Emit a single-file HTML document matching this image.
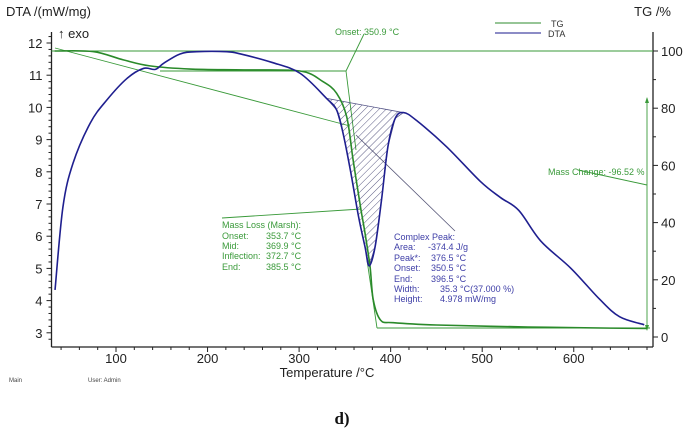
<!DOCTYPE html>
<html><head><meta charset="utf-8">
<style>
html,body{margin:0;padding:0;background:#fff;}
svg{display:block;font-family:"Liberation Sans",Arial,sans-serif;}
</style></head>
<body>
<svg id="chart" width="685" height="434" viewBox="0 0 685 434" xmlns="http://www.w3.org/2000/svg">
<defs>
<pattern id="hatch" patternUnits="userSpaceOnUse" width="5" height="5" patternTransform="rotate(45)">
<line x1="0" y1="0" x2="0" y2="5" stroke="#333366" stroke-width="0.8"/>
</pattern>
</defs>
<g id="axes"></g>
<g id="annot"></g>
<g id="series"></g>
<text x="6" y="16" font-size="13" fill="#222">DTA /(mW/mg)</text>
<text x="671" y="16" font-size="13" fill="#222" text-anchor="end">TG /%</text>
<text x="58" y="38" font-size="13" fill="#222">↑ exo</text>
<text x="327" y="377" font-size="13" fill="#222" text-anchor="middle">Temperature /°C</text>
<text x="9" y="382" font-size="6" fill="#444">Main</text>
<text x="88" y="382" font-size="6" fill="#444">User: Admin</text>
<text x="342" y="424" font-size="17" font-weight="bold" font-family="Liberation Serif,serif" text-anchor="middle" fill="#111">d)</text>
<g>
<line x1="495" y1="23" x2="541" y2="23" stroke="#2e8b2e" stroke-width="1"/>
<text x="551" y="27" font-size="9" fill="#333">TG</text>
<line x1="495" y1="33" x2="541" y2="33" stroke="#1a1a8c" stroke-width="1"/>
<text x="548" y="37" font-size="9" fill="#333">DTA</text>
</g>
<g font-size="9" fill="#3a9a3a">
<text x="335" y="35">Onset: 350.9 °C</text>
<text x="548" y="175">Mass Change: -96.52 %</text>
<text x="222" y="228">Mass Loss (Marsh):</text>
<text x="222" y="239">Onset:</text><text x="266" y="239">353.7 °C</text>
<text x="222" y="249">Mid:</text><text x="266" y="249">369.9 °C</text>
<text x="222" y="259">Inflection:</text><text x="266" y="259">372.7 °C</text>
<text x="222" y="270">End:</text><text x="266" y="270">385.5 °C</text>
</g>
<g font-size="9" fill="#4040a8">
<text x="394" y="240">Complex Peak:</text>
<text x="394" y="250">Area:</text><text x="428" y="250">-374.4 J/g</text>
<text x="394" y="261">Peak*:</text><text x="431" y="261">376.5 °C</text>
<text x="394" y="271">Onset:</text><text x="431" y="271">350.5 °C</text>
<text x="394" y="282">End:</text><text x="431" y="282">396.5 °C</text>
<text x="394" y="292">Width:</text><text x="440" y="292">35.3 °C(37.000 %)</text>
<text x="394" y="302">Height:</text><text x="440" y="302">4.978 mW/mg</text>
</g>
</svg>
<script>
const dtaT=[33.4,42,53,72,90,112,130,143,152,170,188,221,236,270,301,330,341,348,356,365,372,376.5,383,390,397,405,414,428,461,498,520,540,564,597,628,650,677];
const dtaV=[4.33,6.9,8.26,9.52,10.23,10.9,11.21,11.18,11.37,11.66,11.73,11.73,11.66,11.4,11.06,10.28,9.92,9.2,8.05,6.6,5.67,5.08,5.67,7.12,8.78,9.66,9.84,9.6,8.78,7.7,7.2,6.8,5.85,5.0,4.05,3.5,3.25];
const tgT=[33,75,108,137,181,240,301,326,341,352,359,367,372,377.5,381,389,403,450,550,640,680];
const tgV=[100,99.8,96.9,94.8,93.7,93.4,93,89.3,85.2,77,61.9,45.6,36.3,24.6,13,5.9,5.0,4.2,3.5,3.1,3.0];
const xTicks=[100,200,300,400,500,600];
const yLeftTicks=[3,4,5,6,7,8,9,10,11,12];
const yRightTicks=[0,20,40,60,80,100];
const X0=51.5,X1=653,YB=347;
const xs=t=>116+(t-100)*0.9155;
const yl=v=>43+(12-v)*32.2;
const yr=p=>337-p*2.86;
const NS='http://www.w3.org/2000/svg';
function mk(tag,attrs,parent){const el=document.createElementNS(NS,tag);for(const k in attrs)el.setAttribute(k,attrs[k]);parent.appendChild(el);return el;}
const ax=document.getElementById('axes');
let e;
e=mk('line',{x1:X0,y1:32,x2:X0,y2:YB,stroke:'#222','stroke-width':1.3},ax);


e=mk('line',{x1:X0,y1:YB,x2:X1,y2:YB,stroke:'#222','stroke-width':1.3},ax);


e=mk('line',{x1:X1,y1:32,x2:X1,y2:YB,stroke:'#222','stroke-width':1.3},ax);


for(let t=40;t<=680;t+=20){mk('line',{x1:xs(t),y1:YB,x2:xs(t),y2:YB+(t%100===0?5:3),stroke:'#222'},ax);}
xTicks.forEach(t=>{e=mk('text',{x:xs(t),y:YB+16,'font-size':13,'text-anchor':'middle',fill:'#222'},ax);e.textContent=t;

});
for(let i=0;i<=47;i++){const v=2.8+i*0.2;const maj=Math.abs(v-Math.round(v))<0.01;mk('line',{x1:X0-(maj?5:3),y1:yl(v),x2:X0,y2:yl(v),stroke:'#222'},ax);}
yLeftTicks.forEach(v=>{e=mk('text',{x:X0-9,y:yl(v)+5,'font-size':13,'text-anchor':'end',fill:'#222'},ax);e.textContent=v;

});
for(let p=0;p<=100;p+=10){mk('line',{x1:X1,y1:yr(p),x2:X1+(p%20===0?5:3),y2:yr(p),stroke:'#222'},ax);}
yRightTicks.forEach(p=>{e=mk('text',{x:X1+8,y:yr(p)+5,'font-size':13,fill:'#222'},ax);e.textContent=p;

});
const an=document.getElementById('annot');
const G='#3a9a3a';
[[X0,yr(100),X1,yr(100)],[55,48,350,126],[160,71,346,71],[346,71,364,34],[346,71,356,150],[377,328,650,328],[377,328,367,260],
 [578,170,647,185],[222,218,361,209],[647,98,647,330]].forEach(l=>mk('line',{x1:l[0],y1:l[1],x2:l[2],y2:l[3],stroke:G,'stroke-width':0.9},an));
mk('polygon',{points:'645,103 647,97 649,103',fill:G},an);
mk('polygon',{points:'645,325 647,331 649,325',fill:G},an);
mk('line',{x1:356,y1:135,x2:455,y2:231,stroke:'#555577','stroke-width':0.8},an);
let pts=[];
for(let i=0;i<dtaT.length;i++){if(dtaT[i]>=329&&dtaT[i]<=414)pts.push(xs(dtaT[i])+','+yl(dtaV[i]));}
e=mk('polygon',{points:pts.join(' '),fill:'url(#hatch)',stroke:'#555588','stroke-width':0.8},an);


function smooth(T,V,f){let d='';const P=T.map((t,i)=>[xs(t),f(V[i])]);
 for(let i=0;i<P.length;i++){if(i===0){d='M'+P[0][0]+','+P[0][1];continue;}
 const p0=P[Math.max(0,i-2)],p1=P[i-1],p2=P[i],p3=P[Math.min(P.length-1,i+1)];
 const c1=[p1[0]+(p2[0]-p0[0])/6,p1[1]+(p2[1]-p0[1])/6],c2=[p2[0]-(p3[0]-p1[0])/6,p2[1]-(p3[1]-p1[1])/6];
 d+=' C'+c1[0]+','+c1[1]+' '+c2[0]+','+c2[1]+' '+p2[0]+','+p2[1];}return d;}
const se=document.getElementById('series');
e=mk('path',{d:smooth(tgT,tgV,yr),fill:'none',stroke:'#2a8a2a','stroke-width':1.6},se);


e=mk('path',{d:smooth(dtaT,dtaV,yl),fill:'none',stroke:'#1f1f8f','stroke-width':1.6},se);


</script>
</body></html>
